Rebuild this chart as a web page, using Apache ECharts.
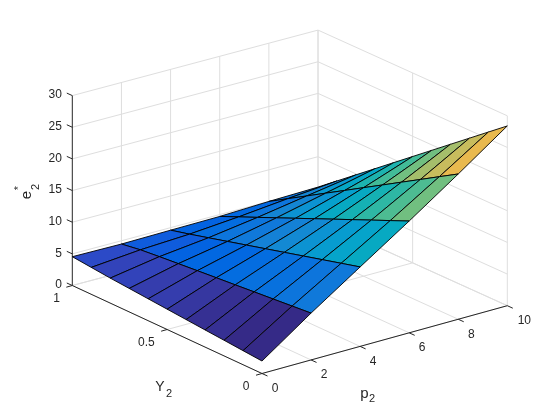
<!DOCTYPE html>
<html><head><meta charset="utf-8">
<style>html,body{margin:0;padding:0;background:#fff}#c{width:560px;height:420px}</style>
<script src="https://cdn.jsdelivr.net/npm/echarts@6/dist/echarts.min.js"></script>
</head><body><div id="c"></div>
<script>
// ---- data ----
const pValues = [0, 2, 4, 6, 8, 10];
const yValues = [0, 0.1, 0.2, 0.3, 0.4, 0.5, 0.6, 0.7, 0.8, 0.9, 1];
const zP0  = [1.97, 2.22, 2.47, 2.71, 2.96, 3.21, 3.46, 3.71, 3.95, 4.25, 4.55];
const zP2  = [7.40, 7.13, 6.86, 6.60, 6.33, 6.07, 5.80, 5.53, 5.25, 4.95, 4.48];
const zP4  = [12.55, 11.75, 10.95, 10.15, 9.35, 8.55, 7.75, 6.95, 6.15, 5.35, 4.60];
const zP6  = [17.66, 16.36, 15.07, 13.77, 12.48, 11.18, 9.88, 8.59, 7.29, 6.00, 4.70];
const zP8  = [22.95, 21.16, 19.36, 17.57, 15.77, 13.98, 12.18, 10.39, 8.59, 6.80, 5.00];
const zP10 = [28.40, 26.08, 23.76, 21.44, 19.12, 16.80, 14.48, 12.16, 9.84, 7.52, 5.20];
const zRows = [zP0, zP2, zP4, zP6, zP8, zP10];
const pTicks = [0, 2, 4, 6, 8, 10];
const yTicks = [0, 0.5, 1];
const zTicks = [0, 5, 10, 15, 20, 25, 30];
const pLim = [0, 10], yLim = [0, 1], zLim = [0, 30];

// ---- view: where the box corners of the floor fall on the plane ----
const VIEW = {
  front: [262, 373.5], right: [507.3, 305.7], left: [72.3, 285.5], back: [318, 220],
  zPx: 6.33
};
function project(p, Y, z) {
  const u = (p - pLim[0]) / (pLim[1] - pLim[0]), v = (Y - yLim[0]) / (yLim[1] - yLim[0]);
  const a = VIEW.front, b = VIEW.right, c = VIEW.left, d = VIEW.back;
  const x = (1-u)*(1-v)*a[0] + u*(1-v)*b[0] + (1-u)*v*c[0] + u*v*d[0];
  const y = (1-u)*(1-v)*a[1] + u*(1-v)*b[1] + (1-u)*v*c[1] + u*v*d[1];
  return [x, y - z * VIEW.zPx];
}
// old MATLAB parula colormap
const parula = [[0.2081,0.1663,0.5292],[0.2116,0.1898,0.5777],[0.2123,0.2138,0.6270],[0.2081,0.2386,0.6771],[0.1959,0.2645,0.7279],[0.1707,0.2919,0.7792],[0.1253,0.3242,0.8303],[0.0591,0.3598,0.8683],[0.0117,0.3875,0.8820],[0.0060,0.4086,0.8828],[0.0165,0.4266,0.8786],[0.0329,0.4430,0.8720],[0.0498,0.4586,0.8641],[0.0629,0.4737,0.8554],[0.0723,0.4887,0.8467],[0.0779,0.5040,0.8384],[0.0793,0.5200,0.8312],[0.0749,0.5375,0.8263],[0.0641,0.5570,0.8240],[0.0488,0.5772,0.8228],[0.0343,0.5966,0.8199],[0.0265,0.6137,0.8135],[0.0239,0.6287,0.8038],[0.0231,0.6418,0.7913],[0.0228,0.6535,0.7768],[0.0267,0.6642,0.7607],[0.0384,0.6743,0.7436],[0.0590,0.6838,0.7254],[0.0843,0.6928,0.7062],[0.1133,0.7015,0.6859],[0.1453,0.7098,0.6646],[0.1801,0.7177,0.6424],[0.2178,0.7250,0.6193],[0.2586,0.7317,0.5954],[0.3022,0.7376,0.5712],[0.3482,0.7424,0.5473],[0.3953,0.7459,0.5244],[0.4420,0.7481,0.5033],[0.4871,0.7491,0.4840],[0.5300,0.7491,0.4661],[0.5709,0.7485,0.4494],[0.6099,0.7473,0.4337],[0.6473,0.7456,0.4188],[0.6834,0.7435,0.4044],[0.7184,0.7411,0.3904],[0.7525,0.7384,0.3768],[0.7858,0.7356,0.3633],[0.8185,0.7327,0.3498],[0.8507,0.7299,0.3360],[0.8824,0.7274,0.3217],[0.9139,0.7258,0.3063],[0.9450,0.7261,0.2886],[0.9739,0.7314,0.2666],[0.9938,0.7455,0.2403],[0.9990,0.7653,0.2164],[0.9955,0.7861,0.1967],[0.9880,0.8066,0.1794],[0.9789,0.8271,0.1633],[0.9697,0.8481,0.1475],[0.9626,0.8705,0.1309],[0.9589,0.8949,0.1132],[0.9598,0.9218,0.0948],[0.9661,0.9514,0.0755],[0.9763,0.9831,0.0538]];
const allZ = zRows.flat();
const zMin = Math.min(...allZ), zMax = Math.max(...allZ);
function faceColor(z) {
  const idx = Math.min(63, Math.floor((z - zMin) / (zMax - zMin) * 64));
  const c = parula[idx];
  return 'rgb(' + c.map(v => Math.round(v * 255)).join(',') + ')';
}

// cells, painted back to front
const cells = [];
for (let i = 0; i < pValues.length - 1; i++)
  for (let j = 0; j < yValues.length - 1; j++) cells.push([i, j]);
cells.sort((a, b) => (b[0] + b[1]) - (a[0] + a[1]));

const GRID = '#dedede', AXIS = '#262626', FONT = 'Liberation Sans, Arial, sans-serif';
function seg(api, a, b, color, w) {
  const A = api.coord(a), B = api.coord(b);
  return { type: 'line', silent: true, shape: { x1: A[0], y1: A[1], x2: B[0], y2: B[1] }, style: { stroke: color, lineWidth: w, fill: null } };
}
function label(api, at, text, align, size, extra) {
  const P = api.coord(at);
  return Object.assign({ type: 'text', silent: true, x: P[0], y: P[1],
    style: { text: String(text), fill: AXIS, align: align, verticalAlign: 'middle', font: size + 'px ' + FONT } }, extra || {});
}
const add = (q, d) => [q[0] + d[0], q[1] + d[1]];

function renderBox(params, api) {
  const ch = [];
  const zTop = zLim[1], zBot = zLim[0];
  // wall and floor grid
  zTicks.forEach(z => {
    ch.push(seg(api, project(0, 1, z), project(10, 1, z), GRID, 1));
    ch.push(seg(api, project(10, 1, z), project(10, 0, z), GRID, 1));
  });
  pTicks.forEach(p => {
    if (p > 0) ch.push(seg(api, project(p, 1, zBot), project(p, 1, zTop), GRID, 1));
    ch.push(seg(api, project(p, 0, zBot), project(p, 1, zBot), GRID, 1));
  });
  yTicks.forEach(y => {
    ch.push(seg(api, project(10, y, zBot), project(10, y, zTop), GRID, 1));
    ch.push(seg(api, project(0, y, zBot), project(10, y, zBot), GRID, 1));
  });
  // axis lines
  ch.push(seg(api, project(0, 1, zBot), project(0, 1, zTop), AXIS, 1));
  ch.push(seg(api, project(0, 1, zBot), project(0, 0, zBot), AXIS, 1));
  ch.push(seg(api, project(0, 0, zBot), project(10, 0, zBot), AXIS, 1));
  // ticks and tick labels
  zTicks.forEach(z => {
    const q = project(0, 1, z);
    ch.push(seg(api, q, add(q, [-5.5, -2.5]), AXIS, 1));
    ch.push(label(api, add(q, [-10.5, -0.5]), z, 'right', 12));
  });
  yTicks.forEach(y => {
    const q = project(0, y, zBot);
    ch.push(seg(api, q, add(q, [-6, 1.7]), AXIS, 1));
    ch.push(label(api, add(q, [-12.5, 13.5]), y, 'right', 12));
  });
  pTicks.forEach(p => {
    const q = project(p, 0, zBot);
    ch.push(seg(api, q, add(q, [5.5, 2.5]), AXIS, 1));
    ch.push(label(api, add(q, [p === 10 ? 17 : 13, 15]), p, 'center', 12));
  });
  // axis titles
  ch.push(label(api, [160, 387], 'Y', 'center', 14));
  ch.push(label(api, [169, 394], '2', 'center', 11));
  ch.push(label(api, [364.5, 394], 'p', 'center', 15));
  ch.push(label(api, [372, 399], '2', 'center', 11));
  ch.push(label(api, [27, 195], 'e', 'center', 15, { rotation: Math.PI / 2 }));
  ch.push(label(api, [19, 188], '*', 'center', 11, { rotation: Math.PI / 2 }));
  ch.push(label(api, [35.5, 187], '2', 'center', 11, { rotation: Math.PI / 2 }));
  return { type: 'group', children: ch };
}

function renderCell(params, api) {
  const i = api.value(0), j = api.value(1);
  const corner = (a, b) => api.coord(project(pValues[a], yValues[b], zRows[a][b]));
  return {
    type: 'polygon', silent: true,
    shape: { points: [corner(i, j), corner(i + 1, j), corner(i + 1, j + 1), corner(i, j + 1)] },
    style: { fill: faceColor(zRows[i][j]), stroke: '#000', lineWidth: 0.9, lineJoin: 'round' }
  };
}

const chart = echarts.init(document.getElementById('c'), null, { renderer: 'canvas' });
chart.setOption({
  animation: false,
  backgroundColor: '#fff',
  grid: { left: 0, right: 0, top: 0, bottom: 0 },
  xAxis: { type: 'value', min: 0, max: 560, show: false },
  yAxis: { type: 'value', min: 0, max: 420, inverse: true, show: false },
  tooltip: { show: false },
  series: [
    { type: 'custom', name: 'box', clip: false, silent: true, data: [[0, 0]], renderItem: renderBox, z: 1 },
    { type: 'custom', name: 'surface', clip: false, silent: true, progressive: 0, data: cells, renderItem: renderCell, z: 2 }
  ]
});
</script></body></html>
